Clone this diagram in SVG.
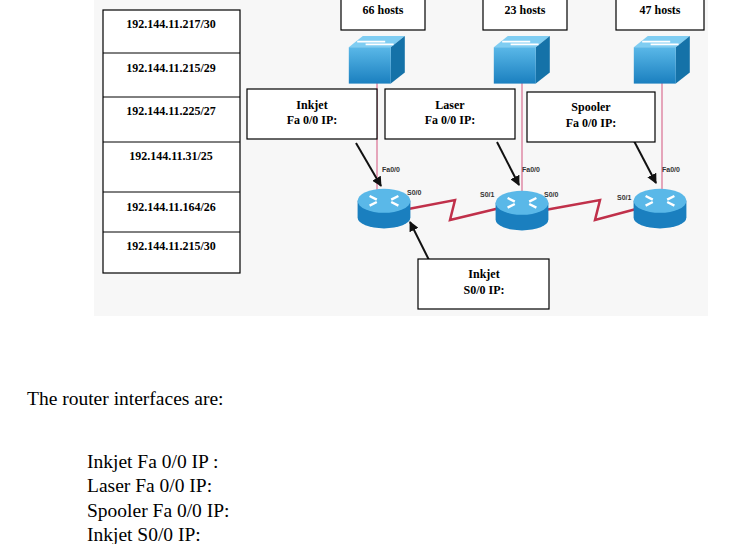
<svg xmlns="http://www.w3.org/2000/svg" width="742" height="544" viewBox="0 0 742 544">
<defs>
<style>
.b{fill:#fff;stroke:#000;stroke-width:1.2}
.t{font-family:"Liberation Serif",serif;font-weight:bold;font-size:12px;text-anchor:middle}
.p{font-family:"Liberation Serif",serif;font-size:19.5px}
.s{font-family:"Liberation Sans",sans-serif;font-size:7px;fill:#333;font-weight:bold}
.pk{stroke:#e08aa6;stroke-width:1.5;fill:none}
.ser{stroke:#c0304a;stroke-width:2.5;fill:none}
.ar{stroke:#111;stroke-width:2;fill:none;marker-end:url(#a)}
</style>
<marker id="a" viewBox="0 0 10 10" refX="9" refY="5" markerWidth="5" markerHeight="5" orient="auto"><path d="M0,0L10,5L0,10z" fill="#111"/></marker>
<linearGradient id="sw" x1="0" y1="0" x2="0" y2="1"><stop offset="0" stop-color="#5ab8e8"/><stop offset="1" stop-color="#1a7fbf"/></linearGradient>
<g id="switch"><path d="M-18,-12L-8,-20L22,-20L12,-12z" fill="#7fcdf2"/><path d="M12,-12L22,-20L22,6L12,14z" fill="#1572a8"/><rect x="-18" y="-12" width="30" height="26" fill="url(#sw)"/><path d="M-12,-16h20M-6,-14h20" stroke="#fff" stroke-width="1.2"/></g>
<g id="router"><path d="M-22,-6v14a22,9 0 0 0 44,0v-14" fill="#1a7fbf"/><ellipse cx="0" cy="-6" rx="22" ry="10" fill="#5ab8e8"/><path d="M-12,-10l6,3M12,-10l-6,3M-12,-2l6,-3M12,-2l-6,-3" stroke="#fff" stroke-width="2"/></g>
</defs>
<rect x="94" y="0" width="614" height="316" fill="#f7f7f7"/>
<g id="connectors">
<path class="pk" d="M377,75V195M522,75V195M662,75V195"/>
<path class="ser" d="M403,210L455,200L450,220L500,208"/>
<path class="ser" d="M545,210L600,200L595,220L640,208"/>
<path class="ar" d="M356,143L381,186"/>
<path class="ar" d="M497,142L519,185"/>
<path class="ar" d="M634,141L656,183"/>
<path class="ar" d="M433,268L410,222"/>
<text class="s" x="382" y="172">Fa0/0</text><text class="s" x="522" y="172">Fa0/0</text><text class="s" x="662" y="172">Fa0/0</text>
<text class="s" x="407" y="195">S0/0</text><text class="s" x="480" y="197">S0/1</text><text class="s" x="544" y="197">S0/0</text><text class="s" x="617" y="200">S0/1</text>
</g>
<g id="table">
<rect class="b" x="103" y="10" width="137" height="263"/>
<path d="M103,53h137M103,97h137M103,142h137M103,192h137M103,232h137" stroke="#000"/>
<text class="t" x="171" y="28">192.144.11.217/30</text>
<text class="t" x="171" y="72">192.144.11.215/29</text>
<text class="t" x="171" y="115">192.144.11.225/27</text>
<text class="t" x="171" y="160">192.144.11.31/25</text>
<text class="t" x="171" y="211">192.144.11.164/26</text>
<text class="t" x="171" y="250">192.144.11.215/30</text>
</g>
<g id="h66"><rect class="b" x="341" y="-2" width="84" height="32"/><text class="t" x="383" y="14">66 hosts</text></g>
<g id="h23"><rect class="b" x="483" y="-2" width="84" height="32"/><text class="t" x="525" y="14">23 hosts</text></g>
<g id="h47"><rect class="b" x="616" y="-2" width="88" height="32"/><text class="t" x="660" y="14">47 hosts</text></g>
<g id="sw1"><use href="#switch" transform="translate(374,64) scale(1.4)"/></g>
<g id="sw2"><use href="#switch" transform="translate(519,64) scale(1.4)"/></g>
<g id="sw3"><use href="#switch" transform="translate(659,64) scale(1.4)"/></g>
<g id="r1"><use href="#router" transform="translate(384,208) scale(1.2)"/></g>
<g id="r2"><use href="#router" transform="translate(522,210) scale(1.2)"/></g>
<g id="r3"><use href="#router" transform="translate(660,208) scale(1.2)"/></g>
<g id="inkjet"><rect class="b" x="247" y="89" width="130" height="50"/><text class="t" x="312" y="109">Inkjet</text><text class="t" x="312" y="124">Fa 0/0 IP:</text></g>
<g id="laser"><rect class="b" x="385" y="89" width="130" height="50"/><text class="t" x="450" y="109">Laser</text><text class="t" x="450" y="124">Fa 0/0 IP:</text></g>
<g id="spooler"><rect class="b" x="527" y="92" width="128" height="50"/><text class="t" x="591" y="111">Spooler</text><text class="t" x="591" y="127">Fa 0/0 IP:</text></g>
<g id="inkjets0"><rect class="b" x="418" y="259" width="131" height="50"/><text class="t" x="484" y="278">Inkjet</text><text class="t" x="484" y="294">S0/0 IP:</text></g>
<text class="p" x="27" y="405">The router interfaces are:</text>
<text class="p" x="87" y="468">Inkjet Fa 0/0 IP :</text>
<text class="p" x="87" y="492">Laser Fa 0/0 IP:</text>
<text class="p" x="87" y="517">Spooler Fa 0/0 IP:</text>
<text class="p" x="87" y="541">Inkjet S0/0 IP:</text>
</svg>
